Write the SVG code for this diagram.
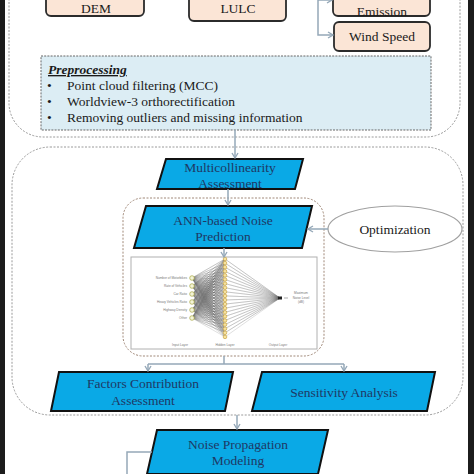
<svg xmlns="http://www.w3.org/2000/svg" width="474" height="474" viewBox="0 0 474 474">
<style>
.frame{fill:none;stroke:#9a9a9a;stroke-width:1;stroke-dasharray:2 1.5}
.peach{fill:#fbe5d6;stroke:#2b2b2b;stroke-width:1.8}
.para{fill:#0aa9e6;stroke:#111;stroke-width:2}
.pt{font-family:"Liberation Serif",serif;font-size:13.5px;fill:#1f3864;text-anchor:middle}
.bt{font-family:"Liberation Serif",serif;font-size:13.5px;fill:#1a1a1a;text-anchor:middle}
.lt{font-family:"Liberation Serif",serif;font-size:13.5px;fill:#1a1a1a}
.con{fill:none;stroke:#95a8b8;stroke-width:1.5}
.arr{marker-end:url(#ah)}
.nnl{fill:none;stroke:#666;stroke-width:0.3;stroke-opacity:0.7}
.tiny{font-family:"Liberation Sans",sans-serif;font-size:3.2px;fill:#777}
.hid{fill:#f6e3a0;stroke:#c9a240;stroke-width:0.7}
.inp{fill:#f4f4d8;stroke:#a8a840;stroke-width:0.7}
</style>
<defs>
<marker id="ah" markerWidth="8" markerHeight="8" refX="6" refY="4" orient="auto" markerUnits="userSpaceOnUse">
<path d="M1,1 L6,4 L1,7" fill="none" stroke="#95a8b8" stroke-width="1.4"/>
</marker>
</defs>
<rect width="474" height="474" fill="#ffffff"/>
<rect x="0" y="0" width="5" height="474" fill="#1c1c1c"/>
<rect x="468" y="0" width="6" height="474" fill="#1c1c1c"/>

<g id="frame-top"><rect class="frame" x="9" y="-40" width="451" height="177" rx="34"/></g>
<g id="frame-model"><rect class="frame" x="12" y="147" width="451" height="268" rx="38"/></g>
<g id="frame-ann"><rect x="123" y="198" width="201" height="158" rx="20" fill="none" stroke="#a08878" stroke-width="1" stroke-dasharray="2 1.5"/></g>

<g id="dem"><rect class="peach" x="46" y="-20" width="98" height="36" rx="5"/><text class="bt" x="96" y="12.5">DEM</text></g>
<g id="lulc"><rect class="peach" x="189" y="-20" width="97" height="41" rx="5"/><text class="bt" x="238" y="12.5">LULC</text></g>
<g id="emission"><rect class="peach" x="333" y="-20" width="97" height="36" rx="5"/><text class="bt" x="382" y="15.5">Emission</text></g>
<g id="wind"><rect class="peach" x="334" y="22" width="96" height="29" rx="5"/><text class="bt" x="382" y="41">Wind Speed</text></g>

<g id="preprocessing">
<rect x="41" y="56" width="390" height="74" fill="#dcedf4" stroke="#666" stroke-width="1" stroke-dasharray="2 1.2"/>
<text class="lt" x="48" y="74" font-weight="bold" font-style="italic" text-decoration="underline">Preprocessing</text>
<text class="lt" x="47" y="90">•</text><text class="lt" x="67" y="90">Point cloud filtering (MCC)</text>
<text class="lt" x="47" y="106">•</text><text class="lt" x="67" y="106">Worldview-3 orthorectification</text>
<text class="lt" x="47" y="122">•</text><text class="lt" x="67" y="122">Removing outliers and missing information</text>
</g>

<g id="multicollinearity"><polygon class="para" points="166,159 303,159 295,189 157,189"/>
<text class="pt" x="230" y="172">Multicollinearity</text><text class="pt" x="230" y="188">Assessment</text></g>

<g id="ann"><polygon class="para" points="146,206 312,206 302,248 134,248"/>
<text class="pt" x="223" y="225">ANN-based Noise</text><text class="pt" x="223" y="241">Prediction</text></g>

<g id="optimization"><ellipse cx="395" cy="229" rx="67" ry="23" fill="#fff" stroke="#a0a0a0" stroke-width="1.2"/>
<text class="bt" x="395" y="234">Optimization</text></g>

<g id="nn-figure">
<rect x="131" y="257" width="186" height="92" fill="#fff" stroke="#b0b0b0" stroke-width="1"/>
<path class="nnl" d="M192,278L225,259L192,278L225,263.1L192,278L225,267.2L192,278L225,271.3L192,278L225,275.4L192,278L225,279.5L192,278L225,283.6L192,278L225,287.7L192,278L225,291.8L192,278L225,295.9L192,278L225,300L192,278L225,304.1L192,278L225,308.2L192,278L225,312.3L192,278L225,316.4L192,278L225,320.5L192,278L225,324.6L192,278L225,328.7L192,278L225,332.8L192,278L225,336.9"/>
<path class="nnl" d="M192,286L225,259L192,286L225,263.1L192,286L225,267.2L192,286L225,271.3L192,286L225,275.4L192,286L225,279.5L192,286L225,283.6L192,286L225,287.7L192,286L225,291.8L192,286L225,295.9L192,286L225,300L192,286L225,304.1L192,286L225,308.2L192,286L225,312.3L192,286L225,316.4L192,286L225,320.5L192,286L225,324.6L192,286L225,328.7L192,286L225,332.8L192,286L225,336.9"/>
<path class="nnl" d="M192,294L225,259L192,294L225,263.1L192,294L225,267.2L192,294L225,271.3L192,294L225,275.4L192,294L225,279.5L192,294L225,283.6L192,294L225,287.7L192,294L225,291.8L192,294L225,295.9L192,294L225,300L192,294L225,304.1L192,294L225,308.2L192,294L225,312.3L192,294L225,316.4L192,294L225,320.5L192,294L225,324.6L192,294L225,328.7L192,294L225,332.8L192,294L225,336.9"/>
<path class="nnl" d="M192,302L225,259L192,302L225,263.1L192,302L225,267.2L192,302L225,271.3L192,302L225,275.4L192,302L225,279.5L192,302L225,283.6L192,302L225,287.7L192,302L225,291.8L192,302L225,295.9L192,302L225,300L192,302L225,304.1L192,302L225,308.2L192,302L225,312.3L192,302L225,316.4L192,302L225,320.5L192,302L225,324.6L192,302L225,328.7L192,302L225,332.8L192,302L225,336.9"/>
<path class="nnl" d="M192,310L225,259L192,310L225,263.1L192,310L225,267.2L192,310L225,271.3L192,310L225,275.4L192,310L225,279.5L192,310L225,283.6L192,310L225,287.7L192,310L225,291.8L192,310L225,295.9L192,310L225,300L192,310L225,304.1L192,310L225,308.2L192,310L225,312.3L192,310L225,316.4L192,310L225,320.5L192,310L225,324.6L192,310L225,328.7L192,310L225,332.8L192,310L225,336.9"/>
<path class="nnl" d="M192,318L225,259L192,318L225,263.1L192,318L225,267.2L192,318L225,271.3L192,318L225,275.4L192,318L225,279.5L192,318L225,283.6L192,318L225,287.7L192,318L225,291.8L192,318L225,295.9L192,318L225,300L192,318L225,304.1L192,318L225,308.2L192,318L225,312.3L192,318L225,316.4L192,318L225,320.5L192,318L225,324.6L192,318L225,328.7L192,318L225,332.8L192,318L225,336.9"/>
<path class="nnl" d="M280,298L225,259L280,298L225,263.1L280,298L225,267.2L280,298L225,271.3L280,298L225,275.4L280,298L225,279.5L280,298L225,283.6L280,298L225,287.7L280,298L225,291.8L280,298L225,295.9L280,298L225,300L280,298L225,304.1L280,298L225,308.2L280,298L225,312.3L280,298L225,316.4L280,298L225,320.5L280,298L225,324.6L280,298L225,328.7L280,298L225,332.8L280,298L225,336.9"/>
<g class="hid">
<circle cx="225" cy="259" r="1.8"/><circle cx="225" cy="263.1" r="1.8"/><circle cx="225" cy="267.2" r="1.8"/><circle cx="225" cy="271.3" r="1.8"/><circle cx="225" cy="275.4" r="1.8"/><circle cx="225" cy="279.5" r="1.8"/><circle cx="225" cy="283.6" r="1.8"/><circle cx="225" cy="287.7" r="1.8"/><circle cx="225" cy="291.8" r="1.8"/><circle cx="225" cy="295.9" r="1.8"/><circle cx="225" cy="300" r="1.8"/><circle cx="225" cy="304.1" r="1.8"/><circle cx="225" cy="308.2" r="1.8"/><circle cx="225" cy="312.3" r="1.8"/><circle cx="225" cy="316.4" r="1.8"/><circle cx="225" cy="320.5" r="1.8"/><circle cx="225" cy="324.6" r="1.8"/><circle cx="225" cy="328.7" r="1.8"/><circle cx="225" cy="332.8" r="1.8"/><circle cx="225" cy="336.9" r="1.8"/>
</g>
<g class="inp">
<circle cx="192" cy="278" r="2.3"/><circle cx="192" cy="286" r="2.3"/><circle cx="192" cy="294" r="2.3"/><circle cx="192" cy="302" r="2.3"/><circle cx="192" cy="310" r="2.3"/><circle cx="192" cy="318" r="2.3"/>
</g>
<rect x="278" y="296.5" width="4" height="3" fill="#222"/>
<path d="M284,298 H288" stroke="#555" stroke-width="0.5"/>
<g class="tiny" text-anchor="end">
<text x="187" y="279">Number of Motorbikes</text>
<text x="187" y="287">Rate of Vehicles</text>
<text x="187" y="295">Car Ratio</text>
<text x="187" y="303">Heavy Vehicles Ratio</text>
<text x="187" y="311">Highway Density</text>
<text x="187" y="319">Other</text>
</g>
<g class="tiny" text-anchor="middle">
<text x="301" y="294">Maximum</text><text x="301" y="298.5">Noise Level</text><text x="301" y="303">(dB)</text>
<text x="180" y="346">Input Layer</text><text x="225" y="346">Hidden Layer</text><text x="278" y="346">Output Layer</text>
</g>
</g>

<g id="factors"><polygon class="para" points="59,372 233,372 225,411 51,411"/>
<text class="pt" x="143" y="388">Factors Contribution</text><text class="pt" x="143" y="405">Assessment</text></g>

<g id="sensitivity"><polygon class="para" points="262,372 435,372 427,411 252,411"/>
<text class="pt" x="344" y="397">Sensitivity Analysis</text></g>

<g id="noise-propagation"><polygon class="para" points="157,430 328,430 318,474 147,474"/>
<text class="pt" x="238" y="449">Noise Propagation</text><text class="pt" x="238" y="465">Modeling</text></g>

<g id="connectors">
<path class="con arr" d="M318,0 H332"/>
<path class="con arr" d="M318,-5 V35 H333"/>
<path class="con arr" d="M235,130 V158"/>
<path class="con arr" d="M228,189 V205"/>
<path class="con arr" d="M328,229 H308"/>
<path class="con arr" d="M224,248 V257"/>
<path class="con" d="M224,356 V364 M148,364 H344"/>
<path class="con arr" d="M148,364 V371"/>
<path class="con arr" d="M344,364 V371"/>
<path class="con arr" d="M237,415 V429"/>
<path class="con" d="M152,452 H127 V474"/>
</g>
</svg>
